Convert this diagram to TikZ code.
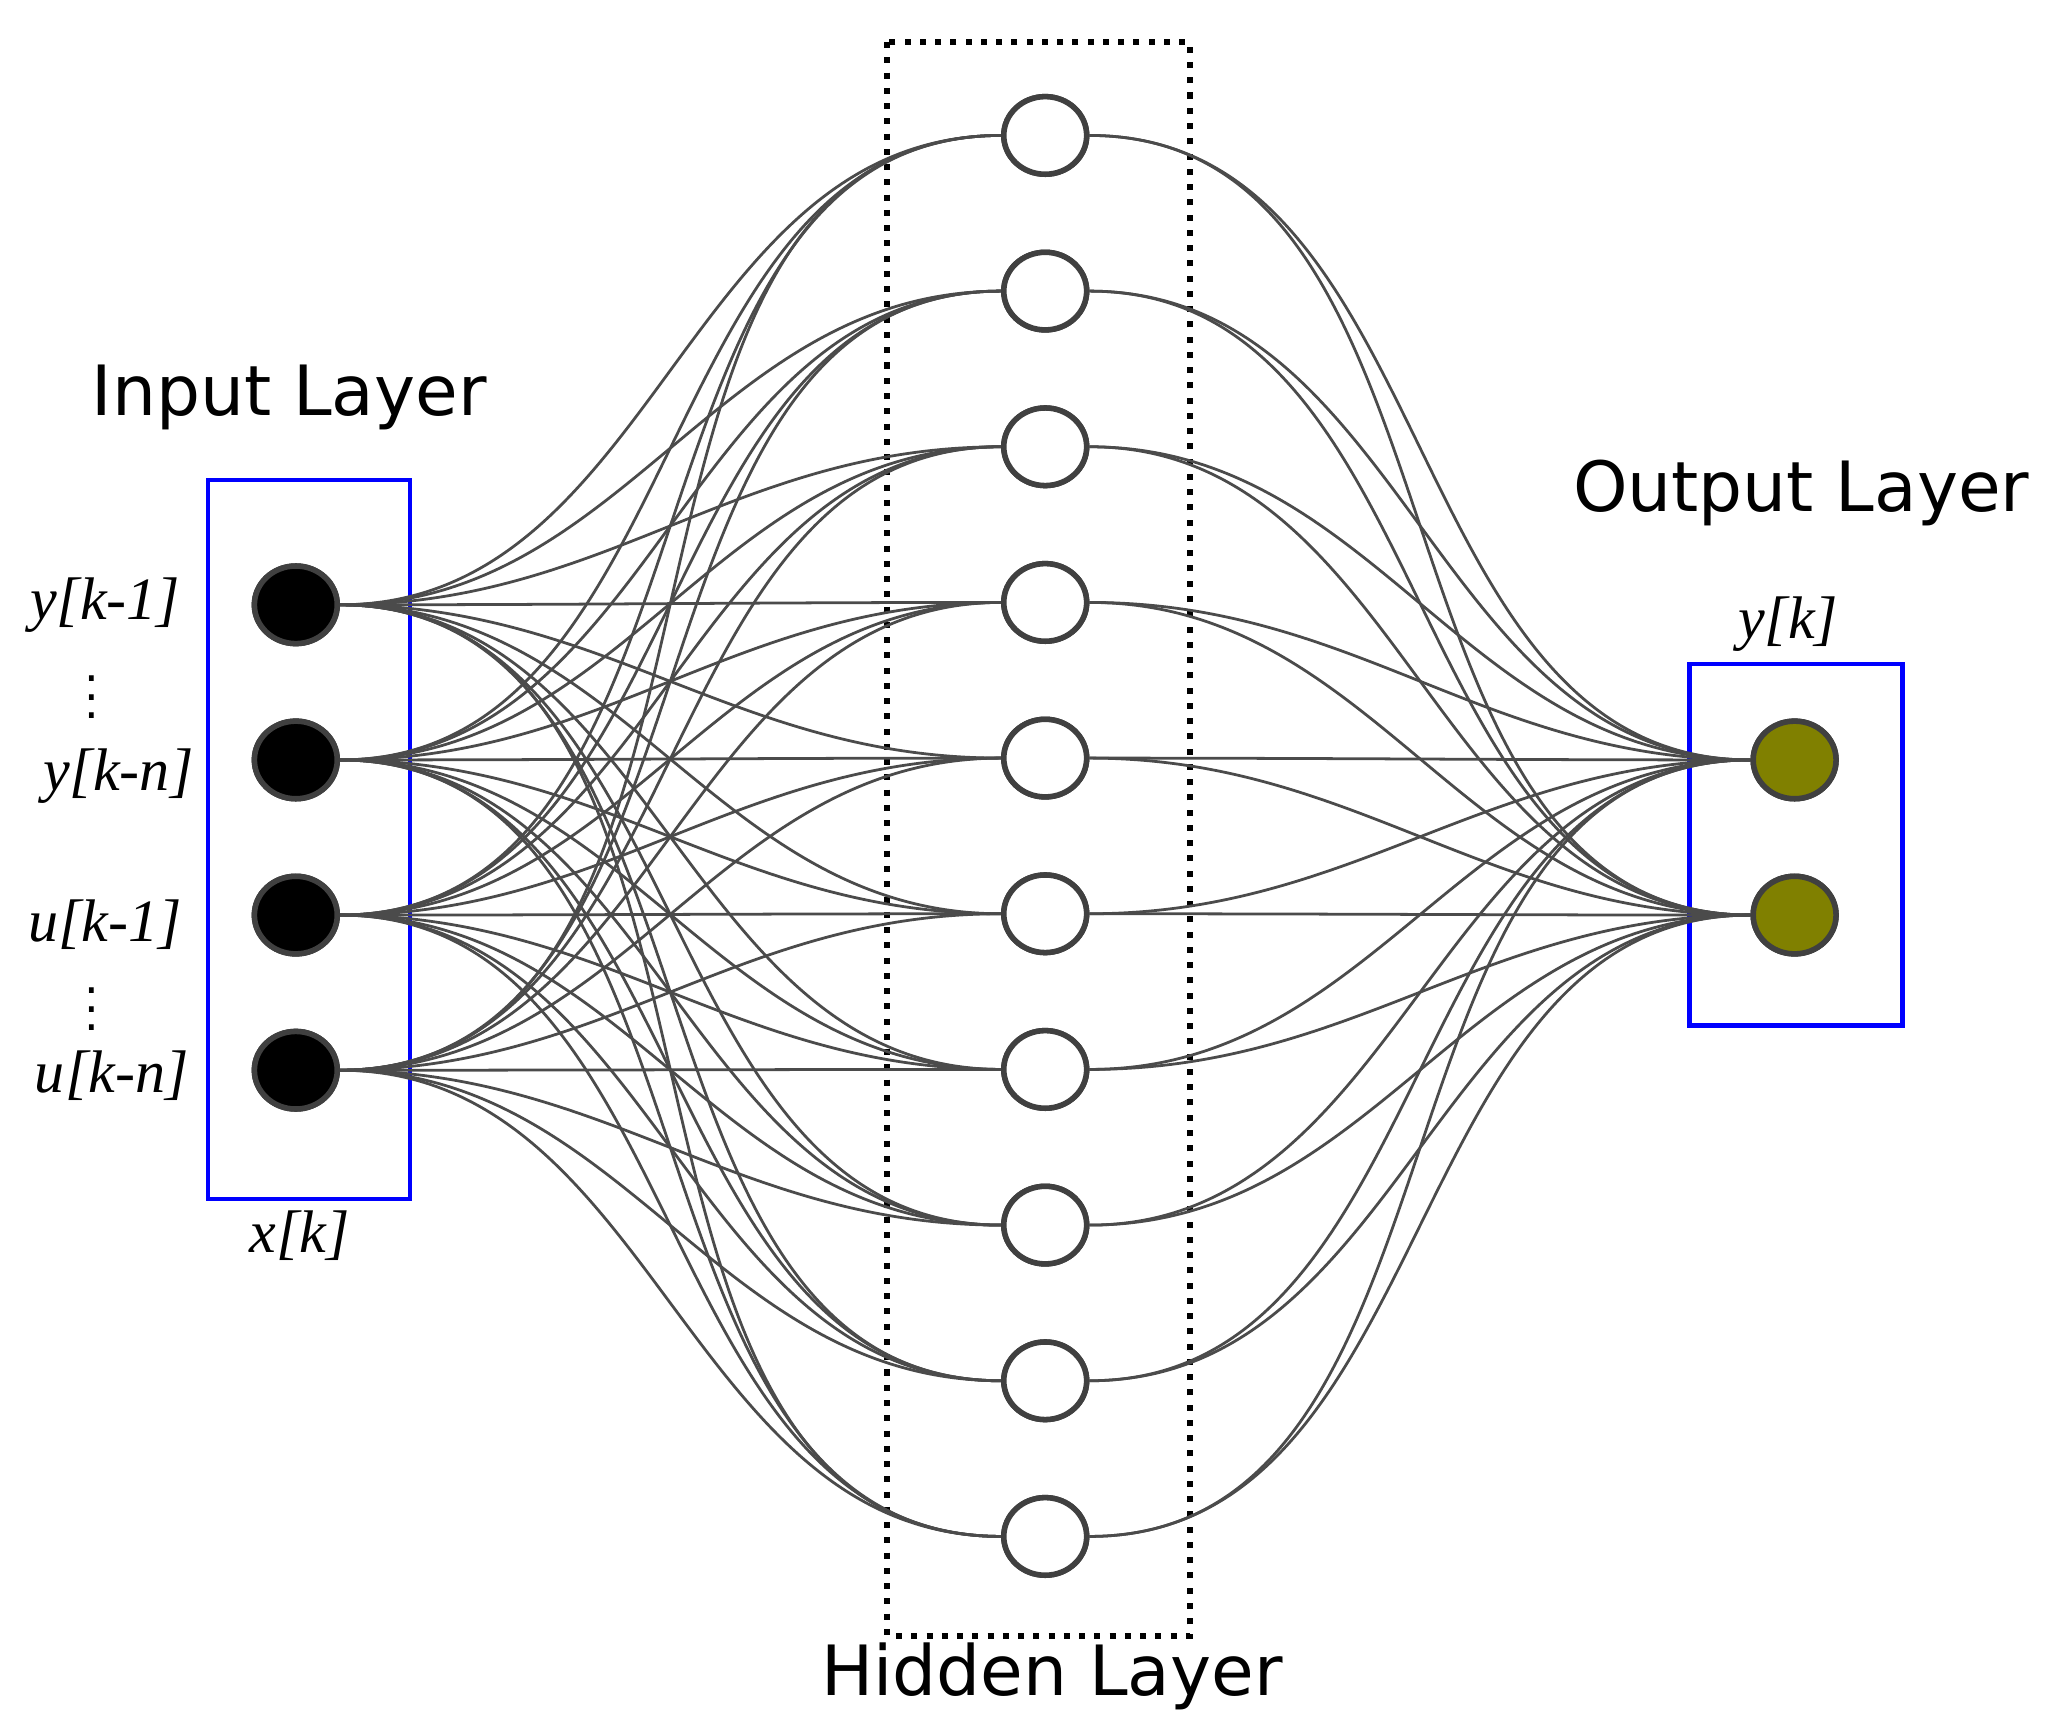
\documentclass[tikz,border=0pt]{standalone}
\usepackage{fontspec}
\setmainfont{DejaVu Sans}
\newfontfamily\lblfont{Liberation Serif}
\usetikzlibrary{positioning,shapes.geometric}
\definecolor{olivenode}{RGB}{128,128,0}
\definecolor{edgegray}{RGB}{75,75,75}
\begin{document}
\begin{tikzpicture}[x=0.01cm,y=-0.01cm,
  innode/.style={ellipse,draw=black!75,line width=1.2pt,fill=black,inner sep=0pt,minimum width=0.63cm,minimum height=0.59cm},
  hidnode/.style={innode,fill=white},
  outnode/.style={innode,fill=olivenode},
  link/.style={edgegray,line width=0.6pt},
  lbl/.style={font=\lblfont\itshape\fontsize{13}{15}\selectfont},
  title/.style={font=\fontsize{15}{18}\selectfont}]
  \useasboundingbox (0,0) rectangle (1560,1320);
  % boxes
  \draw[blue,line width=0.9pt] (158,365) rectangle (312,912);
  \draw[blue,line width=0.9pt] (1285,505) rectangle (1447,780);
  \draw[black,line width=1.3pt,dotted] (675,32) rectangle (905,1244);
  % nodes
  \foreach \i/\y in {1/460,2/578,3/696,4/814}
    \node[innode] (in\i) at (225,\y) {};
  \foreach \i in {1,...,10}
    \node[hidnode] (h\i) at (795,{103+118.4*(\i-1)}) {};
  \foreach \i/\y in {1/578,2/696}
    \node[outnode] (out\i) at (1365,\y) {};
  % links
  \foreach \i in {1,...,4}
    \foreach \j in {1,...,10}
      \draw[link] (in\i.east) to[out=0,in=180] (h\j.west);
  \foreach \j in {1,...,10}
    \foreach \k in {1,2}
      \draw[link] (h\j.east) to[out=0,in=180] (out\k.west);
  % redraw nodes on top
  \foreach \i/\y in {1/460,2/578,3/696,4/814}
    \node[innode] at (225,\y) {};
  \foreach \i in {1,...,10}
    \node[hidnode] at (795,{103+118.4*(\i-1)}) {};
  \foreach \i/\y in {1/578,2/696}
    \node[outnode] at (1365,\y) {};
  % labels
  \node[title] (tin) at (220,302) {Input Layer};
  \node[title] (thid) at (800,1275) {Hidden Layer};
  \node[title] (tout) at (1370,375) {Output Layer};
  \node[lbl] (l1) at (80,460) {y[k-1]};
  \node[lbl] (l2) at (90,590) {y[k-n]};
  \node[lbl] (l3) at (80,703) {u[k-1]};
  \node[lbl] (l4) at (85,818) {u[k-n]};
  \node[lbl] (lx) at (228,940) {x[k]};
  \node[lbl] (ly) at (1360,475) {y[k]};
  \node[inner sep=0pt] (d1) at (70,520) {$\vdots$};
  \node[inner sep=0pt] (d2) at (70,757) {$\vdots$};
\end{tikzpicture}
\end{document}
